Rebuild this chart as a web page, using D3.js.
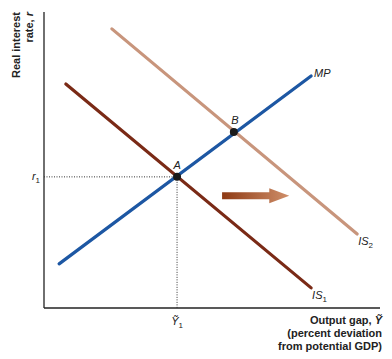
<!DOCTYPE html>
<html><head><meta charset="utf-8">
<script src="https://cdn.jsdelivr.net/npm/d3@7"></script>
<style>body{margin:0;background:#fff}svg{display:block}text{font-family:"Liberation Sans",Arial,sans-serif}</style>
</head><body>
<svg id="c" width="392" height="359"></svg>
<script>
// curve endpoints in chart units (0-100)
const curveNames = ["IS1", "IS2", "MP"];
const curveX = [[6.5, 79.5], [20.2, 93.2], [4.5, 79.5]];
const curveY = [[75.7, 6.8], [94.3, 25.0], [14.9, 78.4]];
const curveColors = ["#7a2a16", "#c8957c", "#1d57a3"];
const pointLabels = ["A", "B"];
const pointX = [39.6, 56.5];
const pointY = [44.3, 59.5];
const shiftArrow = [[53, 37.9], [73, 37.9]];

const svg = d3.select("#c");
const x = d3.scaleLinear().domain([0, 100]).range([44, 380]);
const y = d3.scaleLinear().domain([0, 100]).range([308, 12]);

const defs = svg.append("defs");
const g = defs.append("linearGradient").attr("id", "ag");
g.append("stop").attr("offset", "0%").attr("stop-color", "#8e3a14");
g.append("stop").attr("offset", "100%").attr("stop-color", "#cf8f6a");

// axes
svg.append("line").attr("x1", x(0)).attr("x2", x(0)).attr("y1", y(100)).attr("y2", y(0))
  .attr("stroke", "#222").attr("stroke-width", 1.3);
svg.append("line").attr("x1", x(0)).attr("x2", x(100)).attr("y1", y(0)).attr("y2", y(0))
  .attr("stroke", "#222").attr("stroke-width", 1.3);

// dotted guides to A
svg.append("line").attr("x1", x(0)).attr("x2", x(pointX[0])).attr("y1", y(pointY[0])).attr("y2", y(pointY[0]))
  .attr("stroke", "#333").attr("stroke-width", 1).attr("stroke-dasharray", "1,1.5");
svg.append("line").attr("x1", x(pointX[0])).attr("x2", x(pointX[0])).attr("y1", y(pointY[0])).attr("y2", y(0))
  .attr("stroke", "#333").attr("stroke-width", 1).attr("stroke-dasharray", "1,1.5");

// curves
const line = d3.line().x(d => x(d[0])).y(d => y(d[1]));
curveNames.forEach((n, i) => {
  svg.append("path").attr("d", line([[curveX[i][0], curveY[i][0]], [curveX[i][1], curveY[i][1]]]))
    .attr("fill", "none").attr("stroke", curveColors[i]).attr("stroke-width", 3.2).attr("stroke-linecap", "round");
});

// arrow
const ax0 = x(shiftArrow[0][0]), ax1 = x(shiftArrow[1][0]), ay = y(shiftArrow[0][1]);
const head = 20;
svg.append("path")
  .attr("d", `M${ax0},${ay-3.5} L${ax1-head},${ay-3.5} L${ax1-head},${ay-7.5} L${ax1},${ay} L${ax1-head},${ay+7.5} L${ax1-head},${ay+3.5} L${ax0},${ay+3.5} Z`)
  .attr("fill", "url(#ag)");

// points
pointLabels.forEach((p, i) => {
  svg.append("circle").attr("cx", x(pointX[i])).attr("cy", y(pointY[i])).attr("r", 4).attr("fill", "#1a1a1a");
  svg.append("text").attr("x", x(pointX[i]) + (i ? 1 : 0)).attr("y", y(pointY[i]) - 8)
    .attr("text-anchor", "middle").attr("font-size", 11).attr("font-style", "italic").attr("fill", "#222").text(p);
});

// curve labels
svg.append("text").attr("x", x(curveX[2][1]) + 3).attr("y", y(curveY[2][1]) + 1)
  .attr("font-size", 11).attr("font-style", "italic").attr("fill", "#222").text("MP");
[[0, "1"], [1, "2"]].forEach(([i, s]) => {
  const t = svg.append("text").attr("x", x(curveX[i][1]) + 1).attr("y", y(curveY[i][1]) + 11)
    .attr("font-size", 11).attr("font-style", "italic").attr("fill", "#222");
  t.append("tspan").text("IS");
  t.append("tspan").attr("font-size", 8).attr("font-style", "normal").attr("dy", 3).text(s);
});

// r1 and Y1 labels
const r = svg.append("text").attr("x", 40).attr("y", y(pointY[0]) + 3).attr("text-anchor", "end")
  .attr("font-size", 11).attr("font-style", "italic").attr("fill", "#222");
r.append("tspan").text("r");
r.append("tspan").attr("font-size", 8).attr("font-style", "normal").attr("dy", 3).text("1");
const yt = svg.append("text").attr("x", x(pointX[0])).attr("y", 325).attr("text-anchor", "middle")
  .attr("font-size", 11).attr("font-style", "italic").attr("fill", "#222");
yt.append("tspan").text("Ỹ");
yt.append("tspan").attr("font-size", 8).attr("font-style", "normal").attr("dy", 3).text("1");

// axis titles
const xt = ["Output gap, Ỹ", "(percent deviation", "from potential GDP)"];
xt.forEach((s, i) => {
  const t = svg.append("text").attr("x", 382).attr("y", 324 + i * 13).attr("text-anchor", "end")
    .attr("font-size", 11).attr("font-weight", "bold").attr("fill", "#222");
  if (i === 0) {
    t.append("tspan").text("Output gap, ");
    t.append("tspan").attr("font-style", "italic").text("Ỹ");
  } else t.text(s);
});
const yl = svg.append("g").attr("transform", "translate(20,12) rotate(-90)");
yl.append("text").attr("x", 0).attr("y", 0).attr("text-anchor", "end")
  .attr("font-size", 11).attr("font-weight", "bold").attr("fill", "#222").text("Real interest");
const yl2 = yl.append("text").attr("x", 0).attr("y", 13).attr("text-anchor", "end")
  .attr("font-size", 11).attr("font-weight", "bold").attr("fill", "#222");
yl2.append("tspan").text("rate, ");
yl2.append("tspan").attr("font-style", "italic").text("r");
</script>
</body></html>
